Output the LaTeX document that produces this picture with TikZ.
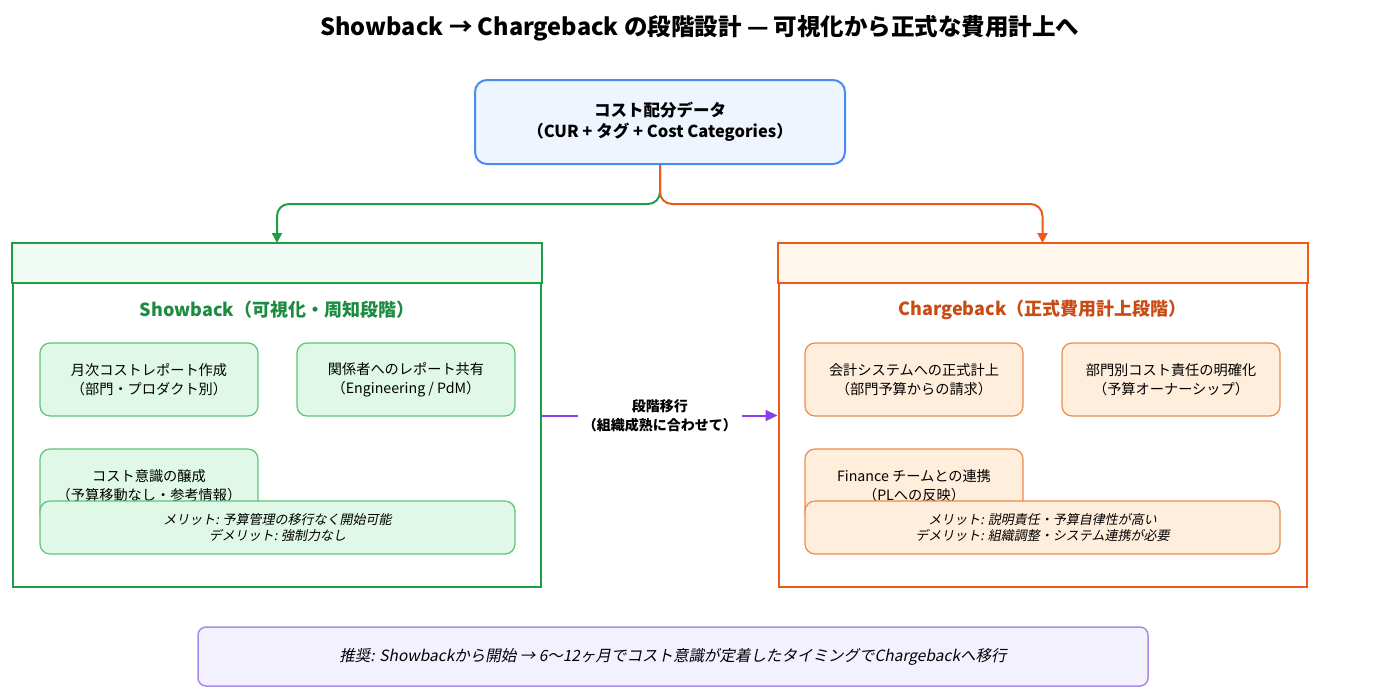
\documentclass[tikz,border=0pt]{standalone}
\usepackage{fontspec}
\setmainfont{Noto Sans CJK JP}
\newfontfamily\slantjp{Noto Sans CJK JP}[FakeSlant=0.2]
\definecolor{srcline}{HTML}{4B8BF0}
\definecolor{srcfill}{HTML}{EEF5FF}
\definecolor{showg}{HTML}{1E9E48}
\definecolor{showtxt}{HTML}{1C8A40}
\definecolor{showbg}{HTML}{F0FBF3}
\definecolor{showbox}{HTML}{DFF8E7}
\definecolor{showedge}{HTML}{5CC47A}
\definecolor{chrg}{HTML}{EA5A1A}
\definecolor{chrgtxt}{HTML}{C84A14}
\definecolor{chrgbg}{HTML}{FFF6EC}
\definecolor{chrgbox}{HTML}{FFEEDC}
\definecolor{chrgedge}{HTML}{EE8A4A}
\definecolor{move}{HTML}{8A3FE6}
\definecolor{notefill}{HTML}{F4F1FE}
\definecolor{noteedge}{HTML}{A98BEB}
\usepackage{tikz}
\usetikzlibrary{arrows.meta, positioning}

\begin{document}
\begin{tikzpicture}[x=1pt, y=-1pt,
  body/.style={align=center, font=\fontsize{14.2}{19}\selectfont},
  phase/.style={draw=#1, line width=2, minimum width=528, minimum height=343, inner sep=0},
  sbox/.style={body, draw=showedge, fill=showbox, rounded corners=10, line width=1.2, minimum width=218, minimum height=73},
  cbox/.style={body, draw=chrgedge, fill=chrgbox, rounded corners=10, line width=1.2, minimum width=218, minimum height=73},
  merit/.style={align=center, font=\fontsize{13}{16.5}\slantjp, rounded corners=10, line width=1.2, minimum width=475, minimum height=53},
  link/.style={line width=2, rounded corners=12, -{Triangle[length=10pt, width=10pt]}}]
  \useasboundingbox (0,0) rectangle (1400,689);

  \node[font=\fontsize{23.5}{28}\selectfont\bfseries] (title) at (700,28)
    {Showback → Chargeback の段階設計 — 可視化から正式な費用計上へ};

  % source data
  \node[draw=srcline, fill=srcfill, line width=2, rounded corners=12, minimum width=370, minimum height=84,
    align=center, font=\fontsize{16.5}{21}\selectfont\bfseries] (src) at (660,122)
    {コスト配分データ\\（CUR + タグ + Cost Categories）};

  % two phases
  \node[phase=showg] (show) at (277,415.5) {};
  \draw[showg, line width=2, fill=showbg] (show.north west) rectangle ([yshift=-40pt]show.north east);
  \node[phase=chrg] (charge) at (1042.5,415.5) {};
  \draw[chrg, line width=2, fill=chrgbg] (charge.north west) rectangle ([yshift=-40pt]charge.north east);

  \node[font=\fontsize{18}{22}\selectfont\bfseries, text=showtxt] (showtitle) at (277,310) {Showback（可視化・周知段階）};
  \node[font=\fontsize{18}{22}\selectfont\bfseries, text=chrgtxt] (chargetitle) at (1042.5,310) {Chargeback（正式費用計上段階）};

  \foreach \n/\cx/\cy/\txt in {
    1/149/379.5/{月次コストレポート作成\\（部門・プロダクト別）},
    2/406/379.5/{関係者へのレポート共有\\（Engineering \slash{} PdM）},
    3/149/485.5/{コスト意識の醸成\\（予算移動なし・参考情報）}}
    \node[sbox] (s\n) at (\cx,\cy) {\txt};
  \node[merit, draw=showedge, fill=showbox] (smerit) at (277.5,527.5)
    {メリット: 予算管理の移行なく開始可能\\デメリット: 強制力なし};

  \foreach \n/\cx/\cy/\txt in {
    1/914/379.5/{会計システムへの正式計上\\（部門予算からの請求）},
    2/1171/379.5/{部門別コスト責任の明確化\\（予算オーナーシップ）},
    3/914/485.5/{Finance チームとの連携\\（PLへの反映）}}
    \node[cbox] (c\n) at (\cx,\cy) {\txt};
  \node[merit, draw=chrgedge, fill=chrgbox] (cmerit) at (1042.5,527.5)
    {メリット: 説明責任・予算自律性が高い\\デメリット: 組織調整・システム連携が必要};

  % connectors
  \coordinate (split) at (660,204);
  \draw[link, showg] (src.south) -- (split) -| (show.north);
  \draw[link, chrg] (src.south) -- (split) -| (charge.north);
  \draw[move, line width=2, -{Triangle[length=12pt, width=11pt]}] (show.east) --
    node[fill=white, inner sep=5, align=center, text=black, font=\fontsize{14}{19}\selectfont\bfseries] (step) {段階移行\\（組織成熟に合わせて）} (charge.west);

  % recommendation
  \node[draw=noteedge, fill=notefill, line width=1.5, rounded corners=8, minimum width=950, minimum height=59,
    font=\fontsize{15.5}{18}\slantjp] (note) at (673,656.5)
    {推奨: Showbackから開始 → 6〜12ヶ月でコスト意識が定着したタイミングでChargebackへ移行};
\end{tikzpicture}
\end{document}
